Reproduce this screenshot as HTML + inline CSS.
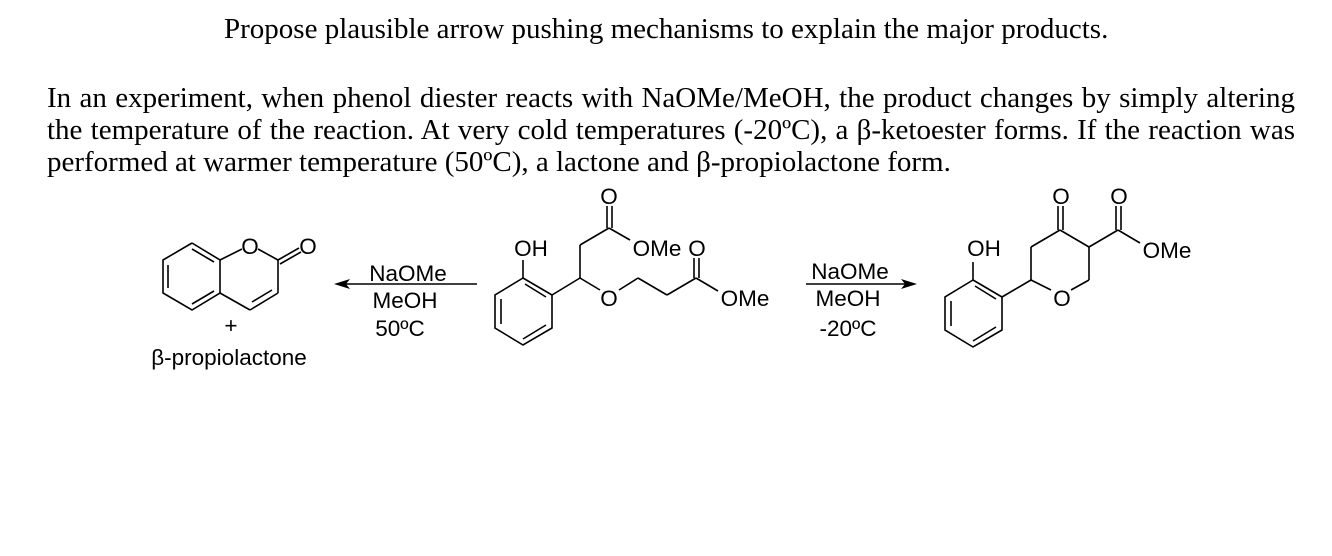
<!DOCTYPE html>
<html><head><meta charset="utf-8"><style>
body{margin:0;width:1332px;height:556px;background:#fff;overflow:hidden;position:relative;font-family:"Liberation Serif",serif;color:#000}
.t{position:absolute;font-size:29px;white-space:nowrap;line-height:1}
.j{text-align:justify;text-align-last:justify;width:1248px;left:47px;white-space:normal}
svg{position:absolute;left:0;top:0}
svg text{font-family:"Liberation Sans",sans-serif;font-size:22.5px}
</style></head><body>
<div class="t" style="left:224px;top:15px">Propose plausible arrow pushing mechanisms to explain the major products.</div>
<div class="t j" style="top:84px">In an experiment, when phenol diester reacts with NaOMe/MeOH, the product changes by simply altering</div>
<div class="t j" style="top:116px">the temperature of the reaction. At very cold temperatures (-20ºC), a β-ketoester forms. If the reaction was</div>
<div class="t" style="left:47px;top:148px">performed at warmer temperature (50ºC), a lactone and β-propiolactone form.</div>
<svg width="1332" height="556" stroke="#000" stroke-width="1.6" fill="none">
<polyline points="192,243 163,260 163,293 192,310 220,293 220,260 192,243"/>
<line x1="168" y1="265" x2="168" y2="288"/><line x1="192" y1="304" x2="214" y2="291"/><line x1="192" y1="249" x2="214" y2="262"/>
<line x1="220" y1="260" x2="242" y2="249"/><line x1="258" y1="249" x2="278" y2="260"/>
<line x1="278" y1="260" x2="278" y2="293"/><line x1="278" y1="293" x2="250" y2="310"/><line x1="272" y1="290" x2="252" y2="302"/><line x1="250" y1="310" x2="220" y2="293"/>
<line x1="278" y1="260" x2="299" y2="248"/><line x1="280" y1="264" x2="301" y2="252"/>
<g stroke="none" fill="#000">
<text x="250" y="254" text-anchor="middle">O</text><text x="308" y="254" text-anchor="middle">O</text>
<text x="231" y="333" text-anchor="middle" font-size="17">+</text>
<text x="229" y="365" text-anchor="middle">β-propiolactone</text>
<text x="408" y="281" text-anchor="middle">NaOMe</text><text x="405" y="308" text-anchor="middle">MeOH</text><text x="400" y="336" text-anchor="middle">50ºC</text>
<text x="850" y="279" text-anchor="middle">NaOMe</text><text x="848" y="306" text-anchor="middle">MeOH</text><text x="848" y="336" text-anchor="middle">-20ºC</text>
<polygon points="334,284 350,279 346,284 350,289"/>
<polygon points="917,284 901,279 905,284 901,289"/>
<text x="531" y="256" text-anchor="middle">OH</text>
<text x="609" y="204" text-anchor="middle">O</text>
<text x="657" y="256" text-anchor="middle">OMe</text>
<text x="609" y="306" text-anchor="middle">O</text>
<text x="697" y="256" text-anchor="middle">O</text>
<text x="745" y="306" text-anchor="middle">OMe</text>
<text x="984" y="256" text-anchor="middle">OH</text>
<text x="1061" y="204" text-anchor="middle">O</text>
<text x="1119" y="204" text-anchor="middle">O</text>
<text x="1167" y="258" text-anchor="middle">OMe</text>
<text x="1062" y="306" text-anchor="middle">O</text>
</g>
<line x1="346" y1="284" x2="477" y2="284"/>
<line x1="806" y1="284" x2="905" y2="284"/>
<polyline points="523,278 552,295 552,328 523,345 495,328 495,295 523,278"/>
<line x1="501" y1="299" x2="501" y2="324"/><line x1="523" y1="339" x2="546" y2="325"/><line x1="525" y1="284" x2="546" y2="297"/>
<line x1="523" y1="278" x2="523" y2="260"/>
<line x1="552" y1="295" x2="580" y2="278"/><line x1="580" y1="278" x2="580" y2="245"/><line x1="580" y1="245" x2="609" y2="228"/>
<line x1="607" y1="228" x2="607" y2="206"/><line x1="612" y1="228" x2="612" y2="206"/>
<line x1="609" y1="228" x2="630" y2="240"/>
<line x1="580" y1="278" x2="600" y2="290"/><line x1="619" y1="290" x2="638" y2="278"/><line x1="638" y1="278" x2="667" y2="295"/><line x1="667" y1="295" x2="696" y2="278"/>
<line x1="694" y1="278" x2="694" y2="258"/><line x1="699" y1="278" x2="699" y2="258"/>
<line x1="696" y1="278" x2="718" y2="291"/>
<polyline points="973,280 1002,297 1002,330 973,347 945,330 945,297 973,280"/>
<line x1="951" y1="301" x2="951" y2="326"/><line x1="973" y1="341" x2="996" y2="327"/><line x1="975" y1="286" x2="996" y2="299"/>
<line x1="973" y1="280" x2="973" y2="262"/>
<line x1="1002" y1="297" x2="1031" y2="280"/><line x1="1031" y1="280" x2="1031" y2="247"/><line x1="1031" y1="247" x2="1060" y2="230"/><line x1="1060" y1="230" x2="1089" y2="247"/><line x1="1089" y1="247" x2="1089" y2="280"/><line x1="1089" y1="280" x2="1071" y2="290"/><line x1="1051" y1="290" x2="1031" y2="280"/>
<line x1="1058" y1="230" x2="1058" y2="206"/><line x1="1063" y1="230" x2="1063" y2="206"/>
<line x1="1089" y1="247" x2="1118" y2="230"/><line x1="1116" y1="230" x2="1116" y2="206"/><line x1="1121" y1="230" x2="1121" y2="206"/>
<line x1="1118" y1="230" x2="1140" y2="243"/>
</svg>
</body></html>
